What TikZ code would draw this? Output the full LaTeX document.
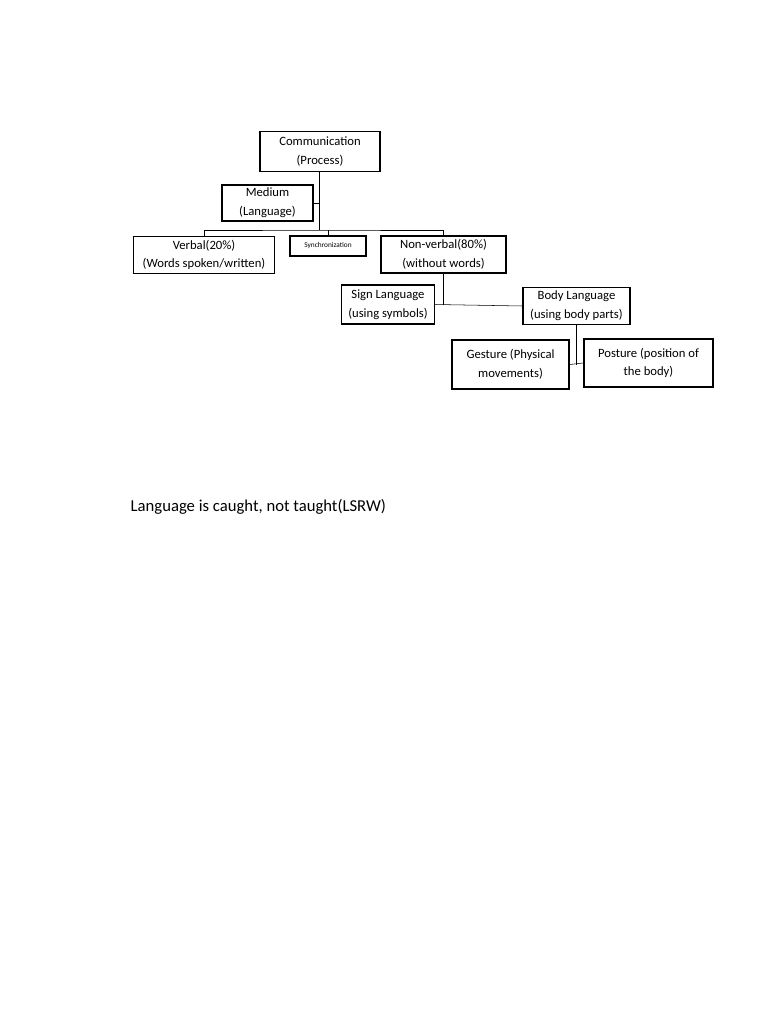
\documentclass[tikz,border=0pt]{standalone}
\usepackage{fontspec}
\setmainfont{Carlito}
\begin{document}
\begin{tikzpicture}[x=0.75pt,y=-0.75pt,
  box/.style={draw,line width=1.1pt,inner sep=0pt,align=center,font=\fontsize{9.5}{14}\selectfont}]
    \useasboundingbox (0,0) rectangle (768,1024);
    % boxes
    \node[box,minimum width=90pt,minimum height=30pt] (comm) at (320,151.5) {Communication\\(Process)};
    \node[box,minimum width=68pt,minimum height=27pt] (medium) at (267.5,203) {Medium\\(Language)};
    \node[box,minimum width=106pt,minimum height=28pt] (verbal) at (204,255) {Verbal(20\%)\\(Words spoken/written)};
    \node[box,minimum width=57pt,minimum height=15pt,font=\fontsize{5.5}{7}\selectfont] (sync) at (328,246) {Synchronization};
    \node[box,minimum width=94pt,minimum height=28pt] (nonverbal) at (443.5,254.5) {Non-verbal(80\%)\\(without words)};
    \node[box,minimum width=70pt,minimum height=29pt] (sign) at (388,304.5) {Sign Language\\(using symbols)};
    \node[box,minimum width=80pt,minimum height=28pt] (body) at (576.5,306) {Body Language\\(using body parts)};
    \node[box,minimum width=88pt,minimum height=37pt] (gesture) at (510.5,364.5) {Gesture (Physical\\movements)};
    \node[box,minimum width=97pt,minimum height=36pt] (posture) at (648.5,363) {Posture (position of\\the body)};
    % connectors
    \coordinate (bar) at (319,230);
    \draw (comm.south -| bar) -- (bar);
    \draw (medium.east) -- (medium.east -| bar);
    \draw (verbal.north) |- (bar) -| (nonverbal.north);
    \draw (sync.north) -- (sync.north |- bar);
    \draw (nonverbal.south) -- (nonverbal.south |- sign.east);
    \draw (sign.east) -- (body.west);
    \draw (body.south) -- (body.south |- gesture.east);
    \draw (gesture.east) -- (posture.west);
    % caption
    \node[anchor=west,font=\fontsize{12.5}{15}\selectfont] (caption) at (126,507) {Language is caught, not taught(LSRW)};
\end{tikzpicture}
\end{document}
